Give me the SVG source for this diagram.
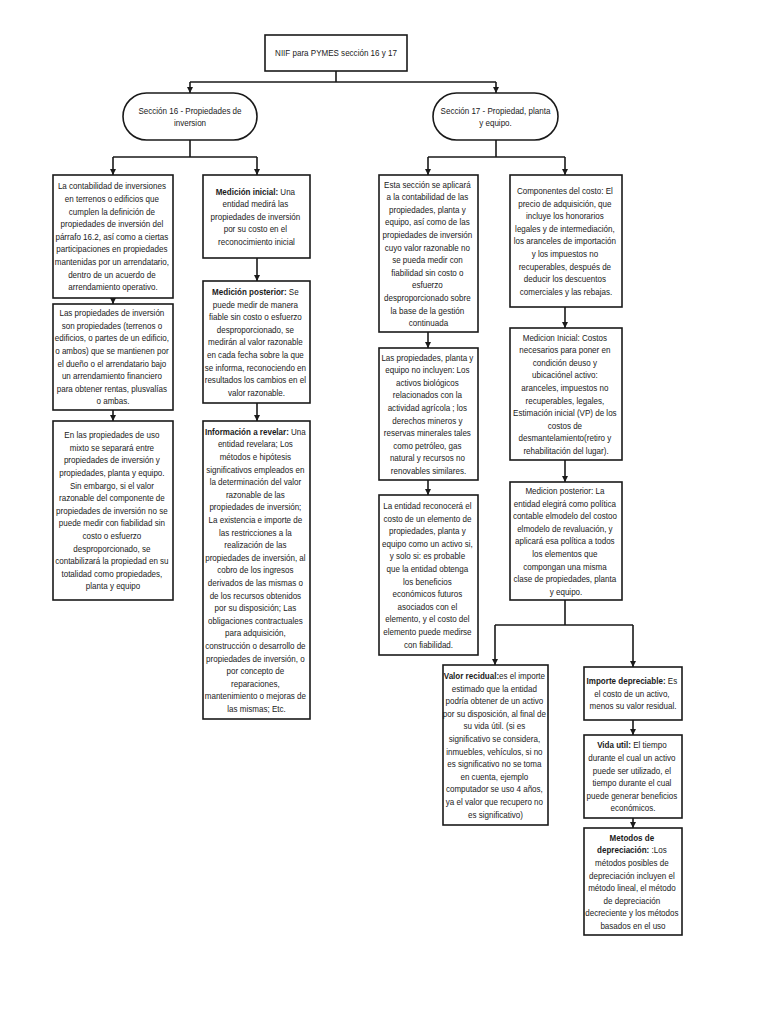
<svg xmlns="http://www.w3.org/2000/svg" width="768" height="1024" viewBox="0 0 768 1024">
<defs>
<style>
.bx{fill:#fff;stroke:#1a1a1a;stroke-width:1.6}
.t{font-family:"Liberation Sans",Arial,sans-serif;font-size:9.8px;fill:#1a1a1a;text-anchor:middle}
.b{font-weight:bold}
.c{fill:none;stroke:#1a1a1a;stroke-width:1.6}
</style>
<marker id="arr" viewBox="0 0 10 10" refX="10" refY="5" markerWidth="9" markerHeight="6" markerUnits="userSpaceOnUse" orient="auto"><path d="M0,0 L10,5 L0,10 z" fill="#1a1a1a"/></marker>
</defs>
<rect width="768" height="1024" fill="#fff"/>

<g id="connectors">
<path class="c" d="M336,71 V82 M190,82 H496"/>
<path class="c" d="M190,82 V93" marker-end="url(#arr)"/>
<path class="c" d="M496,82 V93" marker-end="url(#arr)"/>
<path class="c" d="M190,140 V157 M113,157 H257"/>
<path class="c" d="M113,157 V175" marker-end="url(#arr)"/>
<path class="c" d="M257,157 V175" marker-end="url(#arr)"/>
<path class="c" d="M496,140 V157 M428,157 H565"/>
<path class="c" d="M428,157 V175" marker-end="url(#arr)"/>
<path class="c" d="M565,157 V175" marker-end="url(#arr)"/>
<path class="c" d="M113,298 V304" marker-end="url(#arr)"/>
<path class="c" d="M113,410 V421" marker-end="url(#arr)"/>
<path class="c" d="M257,258 V281" marker-end="url(#arr)"/>
<path class="c" d="M257,403 V421" marker-end="url(#arr)"/>
<path class="c" d="M428,332 V348" marker-end="url(#arr)"/>
<path class="c" d="M428,480 V495" marker-end="url(#arr)"/>
<path class="c" d="M565,307 V328" marker-end="url(#arr)"/>
<path class="c" d="M565,460 V482" marker-end="url(#arr)"/>
<path class="c" d="M565,600 V625 M495,625 H633"/>
<path class="c" d="M495,625 V665" marker-end="url(#arr)"/>
<path class="c" d="M633,625 V667" marker-end="url(#arr)"/>
<path class="c" d="M633,720 V735" marker-end="url(#arr)"/>
<path class="c" d="M633,818 V828" marker-end="url(#arr)"/>
</g>

<g id="title">
<rect class="bx" x="265" y="35" width="142" height="36"/>
<g transform="translate(336,0) scale(0.82,1)"><text class="t" x="0" y="56.4">NIIF para PYMES sección 16 y 17</text></g>
</g>

<g id="sec16">
<rect class="bx" x="123" y="93" width="134" height="47" rx="23.5"/>
<g transform="translate(190,0) scale(0.82,1)"><text class="t"><tspan x="0" y="113.6">Sección 16 - Propiedades de</tspan><tspan x="0" y="126.2">inversion</tspan></text></g>
</g>

<g id="sec17">
<rect class="bx" x="433" y="93" width="125" height="47" rx="23.5"/>
<g transform="translate(495.5,0) scale(0.82,1)"><text class="t"><tspan x="0" y="113.6">Sección 17 -  Propiedad, planta</tspan><tspan x="0" y="126.2">y equipo.</tspan></text></g>
</g>

<g id="l1">
<rect class="bx" x="53" y="175" width="120" height="123"/>
<g transform="translate(113,0) scale(0.82,1)"><text class="t">
<tspan x="0" y="189.5">La contabilidad de inversiones</tspan>
<tspan x="0" y="202.1">en terrenos o edificios que</tspan>
<tspan x="0" y="214.7">cumplen la definición de</tspan>
<tspan x="0" y="227.3">propiedades de inversión del</tspan>
<tspan x="0" y="239.9">párrafo 16.2, así como a ciertas</tspan>
<tspan x="0" y="252.5">participaciones en propiedades</tspan>
<tspan x="0" y="265.1">mantenidas por un arrendatario,</tspan>
<tspan x="0" y="277.7">dentro de un acuerdo de</tspan>
<tspan x="0" y="290.3">arrendamiento operativo.</tspan>
</text></g>
</g>

<g id="l2">
<rect class="bx" x="53" y="304" width="120" height="106"/>
<g transform="translate(113,0) scale(0.82,1)"><text class="t">
<tspan x="0" y="316.3">Las propiedades de inversión</tspan>
<tspan x="0" y="328.9">son propiedades (terrenos o</tspan>
<tspan x="0" y="341.5">edificios, o partes de un edificio,</tspan>
<tspan x="0" y="354.1">o ambos) que se mantienen por</tspan>
<tspan x="0" y="366.7">el dueño o el arrendatario bajo</tspan>
<tspan x="0" y="379.3">un arrendamiento financiero</tspan>
<tspan x="0" y="391.9">para obtener rentas, plusvalías</tspan>
<tspan x="0" y="404.5">o ambas.</tspan>
</text></g>
</g>

<g id="l3">
<rect class="bx" x="53" y="421" width="120" height="179"/>
<g transform="translate(113,0) scale(0.82,1)"><text class="t">
<tspan x="0" y="438.3">En las propiedades de uso</tspan>
<tspan x="0" y="450.9">mixto se separará entre</tspan>
<tspan x="0" y="463.5">propiedades de inversión y</tspan>
<tspan x="0" y="476.1">propiedades, planta y equipo.</tspan>
<tspan x="0" y="488.7">Sin embargo, si el valor</tspan>
<tspan x="0" y="501.3">razonable del componente de</tspan>
<tspan x="0" y="513.9">propiedades de inversión no se</tspan>
<tspan x="0" y="526.5">puede medir con fiabilidad sin</tspan>
<tspan x="0" y="539.1">costo o esfuerzo</tspan>
<tspan x="0" y="551.7">desproporcionado, se</tspan>
<tspan x="0" y="564.3">contabilizará la propiedad en su</tspan>
<tspan x="0" y="576.9">totalidad como propiedades,</tspan>
<tspan x="0" y="589.5">planta y equipo</tspan>
</text></g>
</g>

<g id="m1">
<rect class="bx" x="203" y="175" width="107" height="83"/>
<g transform="translate(256.5,0) scale(0.82,1)"><text class="t">
<tspan x="0" y="194.7"><tspan class="b">Medición inicial:</tspan> Una</tspan>
<tspan x="0" y="207.3">entidad medirá las</tspan>
<tspan x="0" y="219.9">propiedades de inversión</tspan>
<tspan x="0" y="232.5">por su costo en el</tspan>
<tspan x="0" y="245.1">reconocimiento inicial</tspan>
</text></g>
</g>

<g id="m2">
<rect class="bx" x="203" y="281" width="107" height="122"/>
<g transform="translate(256.5,0) scale(0.82,1)"><text class="t">
<tspan x="0" y="295"><tspan class="b">Medición posterior:</tspan> Se</tspan>
<tspan x="0" y="307.6">puede medir de manera</tspan>
<tspan x="0" y="320.2">fiable sin costo o esfuerzo</tspan>
<tspan x="0" y="332.8">desproporcionado, se</tspan>
<tspan x="0" y="345.4">medirán al valor razonable</tspan>
<tspan x="0" y="358">en cada fecha sobre la que</tspan>
<tspan x="0" y="370.6">se informa, reconociendo en</tspan>
<tspan x="0" y="383.2">resultados los cambios en el</tspan>
<tspan x="0" y="395.8">valor razonable.</tspan>
</text></g>
</g>

<g id="m3">
<rect class="bx" x="203" y="421" width="107" height="298"/>
<g transform="translate(256.5,0) scale(0.82,1)"><text class="t">
<tspan x="0" y="434.8"><tspan class="b">Información a revelar:</tspan> Una</tspan>
<tspan x="0" y="447.4">entidad revelara; Los</tspan>
<tspan x="0" y="460">métodos e hipótesis</tspan>
<tspan x="0" y="472.6">significativos empleados en</tspan>
<tspan x="0" y="485.2">la determinación del valor</tspan>
<tspan x="0" y="497.8">razonable de las</tspan>
<tspan x="0" y="510.4">propiedades de inversión;</tspan>
<tspan x="0" y="523">La existencia e importe de</tspan>
<tspan x="0" y="535.6">las restricciones a la</tspan>
<tspan x="0" y="548.2">realización de las</tspan>
<tspan x="0" y="560.8">propiedades de inversión, al</tspan>
<tspan x="0" y="573.4">cobro de los ingresos</tspan>
<tspan x="0" y="586">derivados de las mismas o</tspan>
<tspan x="0" y="598.6">de los recursos obtenidos</tspan>
<tspan x="0" y="611.2">por su disposición; Las</tspan>
<tspan x="0" y="623.8">obligaciones contractuales</tspan>
<tspan x="0" y="636.4">para adquisición,</tspan>
<tspan x="0" y="649">construcción o desarrollo de</tspan>
<tspan x="0" y="661.6">propiedades de inversión, o</tspan>
<tspan x="0" y="674.2">por concepto de</tspan>
<tspan x="0" y="686.8">reparaciones,</tspan>
<tspan x="0" y="699.4">mantenimiento o mejoras de</tspan>
<tspan x="0" y="712">las mismas; Etc.</tspan>
</text></g>
</g>

<g id="a1">
<rect class="bx" x="379" y="175" width="99" height="157"/>
<g transform="translate(428.5,0) scale(0.82,1)"><text class="t">
<tspan x="0" y="187.6">Esta sección se aplicará</tspan>
<tspan x="0" y="200.2">a la contabilidad de las</tspan>
<tspan x="0" y="212.8">propiedades, planta y</tspan>
<tspan x="0" y="225.4">equipo, así como de las</tspan>
<tspan x="0" y="238">propiedades de inversión</tspan>
<tspan x="0" y="250.6">cuyo valor razonable no</tspan>
<tspan x="0" y="263.2">se pueda medir con</tspan>
<tspan x="0" y="275.8">fiabilidad sin costo o</tspan>
<tspan x="0" y="288.4">esfuerzo</tspan>
<tspan x="0" y="301">desproporcionado sobre</tspan>
<tspan x="0" y="313.6">la base de la gestión</tspan>
<tspan x="0" y="326.2">continuada</tspan>
</text></g>
</g>

<g id="a2">
<rect class="bx" x="379" y="348" width="99" height="132"/>
<g transform="translate(428.5,0) scale(0.82,1)"><text class="t">
<tspan x="0" y="360.7">Las propiedades, planta y</tspan>
<tspan x="0" y="373.3">equipo no incluyen: Los</tspan>
<tspan x="0" y="385.9">activos biológicos</tspan>
<tspan x="0" y="398.5">relacionados con la</tspan>
<tspan x="0" y="411.1">actividad agrícola ; los</tspan>
<tspan x="0" y="423.7">derechos mineros y</tspan>
<tspan x="0" y="436.3">reservas minerales tales</tspan>
<tspan x="0" y="448.9">como petróleo, gas</tspan>
<tspan x="0" y="461.5">natural y recursos no</tspan>
<tspan x="0" y="474.1">renovables similares.</tspan>
</text></g>
</g>

<g id="a3">
<rect class="bx" x="379" y="495" width="99" height="160"/>
<g transform="translate(428.5,0) scale(0.82,1)"><text class="t">
<tspan x="0" y="509.1">La entidad reconocerá el</tspan>
<tspan x="0" y="521.7">costo de un elemento de</tspan>
<tspan x="0" y="534.3">propiedades, planta y</tspan>
<tspan x="0" y="546.9">equipo como un activo si,</tspan>
<tspan x="0" y="559.5">y solo si:  es probable</tspan>
<tspan x="0" y="572.1">que la entidad obtenga</tspan>
<tspan x="0" y="584.7">los beneficios</tspan>
<tspan x="0" y="597.3">económicos futuros</tspan>
<tspan x="0" y="609.9">asociados con el</tspan>
<tspan x="0" y="622.5">elemento, y el costo del</tspan>
<tspan x="0" y="635.1">elemento puede medirse</tspan>
<tspan x="0" y="647.7">con fiabilidad.</tspan>
</text></g>
</g>

<g id="b1">
<rect class="bx" x="510" y="175" width="112" height="132"/>
<g transform="translate(566,0) scale(0.82,1)"><text class="t">
<tspan x="0" y="194">Componentes del costo: El</tspan>
<tspan x="0" y="206.6">precio de adquisición, que</tspan>
<tspan x="0" y="219.2">incluye los honorarios</tspan>
<tspan x="0" y="231.8">legales y de intermediación,</tspan>
<tspan x="0" y="244.4">los aranceles de importación</tspan>
<tspan x="0" y="257">y los impuestos no</tspan>
<tspan x="0" y="269.6">recuperables, después de</tspan>
<tspan x="0" y="282.2">deducir los descuentos</tspan>
<tspan x="0" y="294.8">comerciales y las rebajas.</tspan>
</text></g>
</g>

<g id="b2">
<rect class="bx" x="510" y="328" width="112" height="132"/>
<g transform="translate(566,0) scale(0.82,1)"><text class="t">
<tspan x="0" y="340.7">Medicion Inicial: Costos</tspan>
<tspan x="0" y="353.3">necesarios para poner en</tspan>
<tspan x="0" y="365.9">condición deuso y</tspan>
<tspan x="0" y="378.5">ubicaciónel activo:</tspan>
<tspan x="0" y="391.1">aranceles, impuestos no</tspan>
<tspan x="0" y="403.7">recuperables, legales,</tspan>
<tspan x="0" y="416.3">Estimación inicial (VP) de los</tspan>
<tspan x="0" y="428.9">costos de</tspan>
<tspan x="0" y="441.5">desmantelamiento(retiro y</tspan>
<tspan x="0" y="454.1">rehabilitación del lugar).</tspan>
</text></g>
</g>

<g id="b3">
<rect class="bx" x="510" y="482" width="112" height="118"/>
<g transform="translate(566,0) scale(0.82,1)"><text class="t">
<tspan x="0" y="494">Medicion posterior: La</tspan>
<tspan x="0" y="506.6">entidad elegirá como política</tspan>
<tspan x="0" y="519.2">contable elmodelo del costoo</tspan>
<tspan x="0" y="531.8">elmodelo de revaluación, y</tspan>
<tspan x="0" y="544.4">aplicará esa política a todos</tspan>
<tspan x="0" y="557">los elementos que</tspan>
<tspan x="0" y="569.6">compongan una misma</tspan>
<tspan x="0" y="582.2">clase de propiedades, planta</tspan>
<tspan x="0" y="594.8">y equipo.</tspan>
</text></g>
</g>

<g id="valor">
<rect class="bx" x="443" y="665" width="105" height="160"/>
<g transform="translate(495.5,0) scale(0.82,1)"><text class="t">
<tspan x="0" y="679.1"><tspan class="b">Valor recidual:</tspan>es el importe</tspan>
<tspan x="0" y="691.7">estimado que la entidad</tspan>
<tspan x="0" y="704.3">podría obtener de un activo</tspan>
<tspan x="0" y="716.9">por su disposición, al final de</tspan>
<tspan x="0" y="729.5">su vida útil. (si es</tspan>
<tspan x="0" y="742.1">significativo se considera,</tspan>
<tspan x="0" y="754.7">inmuebles, vehículos, si no</tspan>
<tspan x="0" y="767.3">es significativo no se toma</tspan>
<tspan x="0" y="779.9">en cuenta, ejemplo</tspan>
<tspan x="0" y="792.5">computador se uso 4 años,</tspan>
<tspan x="0" y="805.1">ya el valor que recupero no</tspan>
<tspan x="0" y="817.7">es significativo)</tspan>
</text></g>
</g>

<g id="importe">
<rect class="bx" x="584" y="667" width="98" height="53"/>
<g transform="translate(633,0) scale(0.82,1)"><text class="t">
<tspan x="0" y="684.3"><tspan class="b">Importe depreciable:</tspan> Es</tspan>
<tspan x="0" y="696.9">el costo de un activo,</tspan>
<tspan x="0" y="709.5">menos su valor residual.</tspan>
</text></g>
</g>

<g id="vida">
<rect class="bx" x="584" y="735" width="98" height="83"/>
<g transform="translate(633,0) scale(0.82,1)"><text class="t">
<tspan x="0" y="748.4"><tspan class="b">Vida util:</tspan> El tiempo</tspan>
<tspan x="0" y="761">durante el cual un activo</tspan>
<tspan x="0" y="773.6">puede ser utilizado, el</tspan>
<tspan x="0" y="786.2">tiempo durante el cual</tspan>
<tspan x="0" y="798.8">puede generar beneficios</tspan>
<tspan x="0" y="811.4">económicos.</tspan>
</text></g>
</g>

<g id="metodos">
<rect class="bx" x="584" y="828" width="98" height="107"/>
<g transform="translate(633,0) scale(0.82,1)"><text class="t">
<tspan x="0" y="840.8" class="b">Metodos de</tspan>
<tspan x="0" y="853.4"><tspan class="b">depreciación:</tspan> :Los</tspan>
<tspan x="0" y="866">métodos posibles de</tspan>
<tspan x="0" y="878.6">depreciación incluyen el</tspan>
<tspan x="0" y="891.2">método lineal, el método</tspan>
<tspan x="0" y="903.8">de depreciación</tspan>
<tspan x="0" y="916.4">decreciente y los métodos</tspan>
<tspan x="0" y="929">basados en el uso</tspan>
</text></g>
</g>
</svg>
